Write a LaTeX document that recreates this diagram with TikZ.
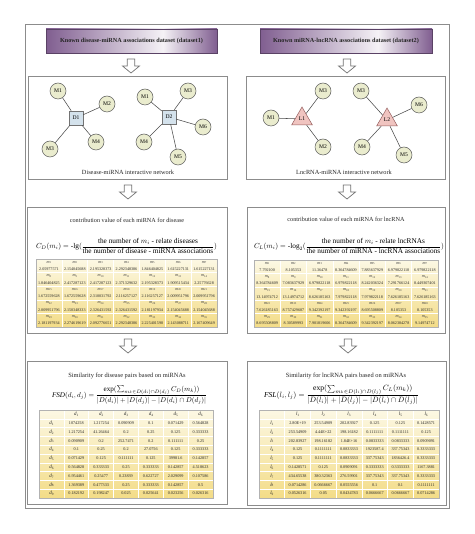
\documentclass[tikz,border=0pt]{standalone}
\usepackage{fontspec}
\setmainfont{Liberation Serif}
\usepackage{amsmath}
\usepackage{graphicx}
\usetikzlibrary{shapes.geometric}
\definecolor{framegray}{RGB}{140,140,140}
\definecolor{hdrpurple}{RGB}{128,94,144}
\definecolor{mfill}{RGB}{234,236,206}
\definecolor{dfill}{RGB}{212,226,236}
\definecolor{lfill}{RGB}{240,196,192}
\definecolor{lline}{RGB}{150,95,95}
\definecolor{tabtop}{RGB}{252,248,228}
\definecolor{tabbot}{RGB}{243,220,135}
\newcommand{\myfs}[1]{\fontsize{#1}{#1}\selectfont}
\newcommand{\isub}[2]{{\itshape #1}{\fontsize{2.9}{3}\selectfont\raisebox{-0.6pt}{#2}}}
\newcommand{\hsub}[2]{{\itshape #1}{\fontsize{3.4}{3.6}\selectfont\raisebox{-0.7pt}{#2}}}

\newcommand{\contable}[6]{%
  \pgfmathsetmacro\tcw{(#4-#2)/7}\pgfmathsetmacro\trh{(#5-#3)/10}%
  \shade[top color=tabtop,bottom color=tabbot] (#2,#3) rectangle (#4,#5);
  \foreach \ii in {1,...,6} \draw[tgrid] ({#2+\ii*\tcw},#3) -- ({#2+\ii*\tcw},#5);
  \foreach \jj in {1,...,4} \draw[tgrid] (#2,{#3+2*\jj*\trh}) -- (#4,{#3+2*\jj*\trh});
  \draw[tborder] (#2,#3) rectangle (#4,#5);
  \foreach \vals [count=\ri] in {#6} {
    \foreach \v [count=\ci] in \vals {
      \pgfmathtruncatemacro\tk{7*(\ri-1)+\ci}
      \node[lab] (#1-m\tk) at ({#2+(\ci-0.5)*\tcw},{#3+(2*\ri-1.5)*\trh}) {\isub{m}{\tk}};
      \node[val] (#1-v\tk) at ({#2+(\ci-0.5)*\tcw},{#3+(2*\ri-0.5)*\trh}) {\v};
    }
  }
}

\newcommand{\simtable}[7]{%
  \pgfmathsetmacro\tcw{(#4-#2)/7}\pgfmathsetmacro\trh{(#5-#3)/10}%
  \shade[top color=tabtop,bottom color=tabbot] (#2,#3) rectangle (#4,#5);
  \foreach \ii in {1,...,6} \draw[tgrid] ({#2+\ii*\tcw},#3) -- ({#2+\ii*\tcw},#5);
  \foreach \jj in {1,...,9} \draw[tgrid] (#2,{#3+\jj*\trh}) -- (#4,{#3+\jj*\trh});
  \draw[tborder] (#2,#3) rectangle (#4,#5);
  \foreach \ci in {1,...,6}
    \node[shd] (#1-h\ci) at ({#2+(\ci+0.5)*\tcw},{#3+0.5*\trh}) {\hsub{#6}{\ci}};
  \foreach \vals [count=\ri] in {#7} {
    \node[shd] (#1-r\ri) at ({#2+0.5*\tcw},{#3+(\ri+0.5)*\trh}) {\hsub{#6}{\ri}};
    \foreach \v [count=\ci] in \vals {
      \node[sval] (#1-\ri-\ci) at ({#2+(\ci+0.5)*\tcw},{#3+(\ri+0.5)*\trh}) {\v};
    }
  }
}

\begin{document}
\begin{tikzpicture}[x=1pt,y=-1pt,
  panel/.style={draw=framegray,line width=0.9pt,fill=white,inner sep=0pt},
  hdrbox/.style={draw=hdrpurple!70!black,line width=0.4pt,inner sep=0pt,font=\myfs{6.2}\bfseries,text=black!85},
  mnode/.style={circle,draw=black!65,fill=mfill,line width=0.5pt,minimum size=16,inner sep=0pt,font=\myfs{5.6}},
  dnode/.style={rectangle,draw=black!55,fill=dfill,line width=0.5pt,minimum size=14,inner sep=0pt,font=\myfs{5.6}},
  lnode/.style={regular polygon,regular polygon sides=3,draw=lline,fill=lfill,line width=0.5pt,minimum size=24,inner sep=0pt,font=\myfs{5.6}},
  edgeln/.style={draw=black!70,line width=0.55pt},
  arrowline/.style={draw=black!55,fill=white,line width=0.7pt,line join=miter},
  tgrid/.style={draw=white,line width=0.5pt},
  tborder/.style={draw=black!30,line width=0.4pt},
  lab/.style={font=\myfs{4.2},inner sep=0pt,text=black!75},
  val/.style={font=\myfs{4.1},inner sep=0pt,text=black!85},
  sval/.style={font=\myfs{4.2},inner sep=0pt,text=black!85},
  shd/.style={font=\myfs{5},inner sep=0pt,text=black!85},
  ttl/.style={font=\myfs{6.2},inner sep=0pt,text=black!85},
  downarr/.pic={\path[arrowline] (-3.8,0) -- (3.8,0) -- (3.8,7) -- (8.5,7) -- (0,14) -- (-8.5,7) -- (-3.8,7) -- cycle;}
]
\useasboundingbox (0,0) rectangle (474,534);
\fill[white] (0,0) rectangle (474,534);

% outer frame
\draw[framegray,line width=1pt] (25,25) rectangle (449,508);

% headers
\shade[left color=hdrpurple,right color=hdrpurple!8] (46,29) rectangle (163,53);
\shade[left color=hdrpurple!8,right color=hdrpurple] (163,29) rectangle (217,53);
\node[hdrbox,minimum width=171,minimum height=24] (h1) at (131.5,41) {Known disease-miRNA associations dataset (dataset1)};
\shade[left color=hdrpurple,right color=hdrpurple!8] (260,29) rectangle (378,53);
\shade[left color=hdrpurple!8,right color=hdrpurple] (378,29) rectangle (432,53);
\node[hdrbox,minimum width=172,minimum height=24] (h2) at (346,41) {Known miRNA-lncRNA associations dataset (dataset2)};

% arrows
\pic at (131,59) {downarr};
\pic at (347,59) {downarr};
\pic at (128,185) {downarr};
\pic at (347,185) {downarr};
\pic at (128,339) {downarr};
\pic at (348,339) {downarr};

% panels
\node[panel,minimum width=199,minimum height=103] (net1) at (127.5,127.5) {};
\node[panel,minimum width=199,minimum height=103] (net2) at (345.5,127.5) {};
\node[panel,minimum width=200,minimum height=126] (con1) at (127,270) {};
\node[panel,minimum width=198,minimum height=126] (con2) at (346,270) {};
\node[panel,minimum width=200,minimum height=143] (sim1) at (127,432.5) {};
\node[panel,minimum width=199,minimum height=144] (sim2) at (346.5,433) {};

% left network
\node[dnode] (D1) at (76,118) {D1};
\node[mnode] (la1) at (58,91) {M1};
\node[mnode] (la2) at (107,104) {M2};
\node[mnode] (la3) at (50,149) {M3};
\node[mnode] (la4) at (96,142) {M4};
\node[dnode] (D2) at (169,117) {D2};
\node[mnode] (lb1) at (145,97) {M1};
\node[mnode] (lb3) at (188,91) {M3};
\node[mnode] (lb6) at (203,127) {M6};
\node[mnode] (lb4) at (144,142) {M4};
\node[mnode] (lb5) at (178,157) {M5};
\foreach \t in {la1,la2,la3,la4} \draw[edgeln] (D1) -- (\t);
\foreach \t in {lb1,lb3,lb6,lb4,lb5} \draw[edgeln] (D2) -- (\t);
\node[ttl,font=\myfs{6.3}] (cap1) at (128,172) {Disease-miRNA interactive network};

% right network
\node[lnode] (L1) at (302,119) {L1};
\node[mnode] (ra1) at (271,118) {M1};
\node[mnode] (ra3) at (323,91) {M3};
\node[mnode] (ra2) at (323,147) {M2};
\node[lnode] (L2) at (387,120) {L2};
\node[mnode] (rb3) at (361,91) {M3};
\node[mnode] (rb6) at (419,105) {M6};
\node[mnode] (rb4) at (362,147) {M4};
\node[mnode] (rb5) at (404,155) {M5};
\foreach \t in {ra1,ra3,ra2} \draw[edgeln] (L1) -- (\t);
\foreach \t in {rb3,rb6,rb4,rb5} \draw[edgeln] (L2) -- (\t);
\node[ttl,font=\myfs{6.3}] (cap2) at (344,172) {LncRNA-miRNA interactive network};

% contribution panels
\node[ttl] (t1) at (127,220) {contribution value of each miRNA for disease};
\node[inner sep=0pt] (f1) at (126.5,246) {\resizebox{181pt}{!}{$C_{D}(m_{i}) = \text{-lg}(\dfrac{\text{the number of $m_{i}$ - relate diseases}}{\text{the number of disease - miRNA associations}})$}};
\contable{ta}{36}{259}{217}{327}{%
{2.05977571,2.154045688,2.195328373,2.292348386,1.846404825,1.615227131,1.615227131},%
{1.846404825,2.417287123,2.417287123,2.371329632,2.195328373,1.909515434,2.25776628},%
{1.672559628,1.672559628,2.310031792,2.116257127,2.116257127,2.009951796,2.009951796},%
{2.009951796,2.150348333,2.326431592,2.326431592,2.181197934,2.154045688,2.154045688},%
{2.181197934,2.274619619,2.092776651,2.292348386,2.225401598,2.143088711,2.167409649}}

\node[ttl] (t2) at (346,219) {contribution value of each miRNA for lncRNA};
\node[inner sep=0pt] (f2) at (349,246) {\resizebox{190pt}{!}{$C_{L}(m_{i}) = \text{-log}_{2}(\dfrac{\text{the number of $m_{i}$ - relate lncRNAs}}{\text{the number of miRNA - lncRNA associations}})$}};
\contable{tb}{254}{260}{438}{327}{%
{7.792100,8.105353,11.36478,8.364784609,7.883637929,6.979822118,6.979822118},%
{8.364784609,7.083637929,6.979822118,6.979822118,8.242036324,7.291766124,8.449307401},%
{13.14974712,13.14974712,8.626185163,7.979822118,7.979822118,7.626185163,7.626185163},%
{7.626185163,8.757429687,9.342392197,9.342392197,8.695508809,8.105353,8.105353},%
{8.695508809,8.30589993,7.901819606,8.364784609,9.342392197,8.062384278,9.14974712}}

% similarity panels
\node[ttl,font=\myfs{6.4}] (t3) at (127,376) {Similarity for disease pairs based on miRNAs};
\node[inner sep=0pt] (f3) at (129.5,395) {\resizebox{155pt}{!}{$\mathit{FSD}(d_{i},d_{j}) = \dfrac{\exp(\sum\nolimits_{m_{k}\in D(d_{i})\cap D(d_{j})} C_{D}(m_{k}))}{|D(d_{i})|+|D(d_{j})|-|D(d_{i})\cap D(d_{j})|}$}};
\simtable{sa}{39}{410}{213}{498}{d}{%
{1074258,1.217254,0.090909,0.1,0.071429,0.564828},%
{1.217254,41.26464,0.2,0.25,0.125,0.333333},%
{0.090909,0.2,252.7471,0.2,0.111111,0.25},%
{0.1,0.25,0.2,27.0756,0.125,0.333333},%
{0.071429,0.125,0.111111,0.125,39981.6,0.142857},%
{0.564828,0.333333,0.25,0.333333,0.142857,4.518623},%
{6.954461,0.25477,0.23839,0.622727,2.029099,0.107586},%
{1.369389,0.477333,0.25,0.333333,0.142857,0.5},%
{0.182192,0.198247,0.025,0.025641,0.023256,0.026316}}

\node[ttl,font=\myfs{6.4}] (t4) at (346,376) {Similarity for lncRNA pairs based on miRNAs};
\node[inner sep=0pt] (f4) at (341.5,395) {\resizebox{155pt}{!}{$\mathit{FSL}(l_{i},l_{j}) = \dfrac{\exp(\sum\nolimits_{m_{k}\in D(l_{i})\cap D(l_{j})} C_{L}(m_{k}))}{|D(l_{i})|+|D(l_{j})|-|D(l_{i})\cap D(l_{j})|}$}};
\simtable{sb}{259}{410}{439}{498}{l}{%
{2.80E+19,253.54909,202.83927,0.125,0.125,0.1428571},%
{253.54909,4.44E+22,198.16182,0.1111111,0.1111111,0.125},%
{202.83927,198.16182,1.84E+16,0.0833333,0.0833333,0.0909091},%
{0.125,0.1111111,0.0833333,1923587.4,337.75343,0.3333333},%
{0.125,0.1111111,0.0833333,337.75343,1836426.4,0.3333333},%
{0.1428571,0.125,0.0909091,0.3333333,0.3333333,1167.3881},%
{434.65538,380.32363,276.59901,337.75343,337.75343,0.3333333},%
{0.0714286,0.0666667,0.0555556,0.1,0.1,0.1111111},%
{0.0526316,0.05,0.0434783,0.0666667,0.0666667,0.0714286}}
\end{tikzpicture}
\end{document}
